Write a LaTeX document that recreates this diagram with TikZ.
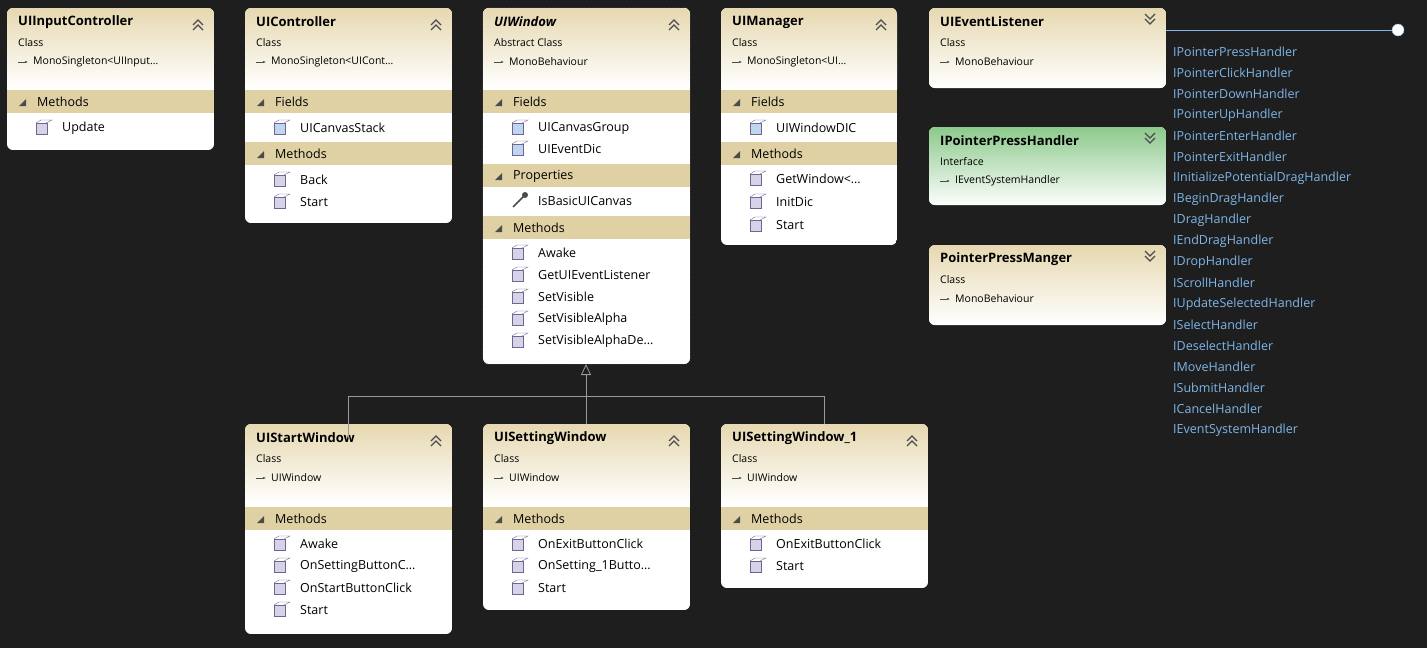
\documentclass[tikz,border=0pt]{standalone}
\usepackage{fontspec}
\setmainfont{Open Sans}
\usetikzlibrary{arrows.meta,calc,positioning}

\definecolor{bgdark}{HTML}{1E1E1E}
\definecolor{hdrtan}{HTML}{E6D8B0}
\definecolor{hdrgreen}{HTML}{8CC98C}
\definecolor{sectbar}{HTML}{E0D1A4}
\definecolor{ifaceblue}{HTML}{7EB6E9}
\definecolor{linegray}{HTML}{9A9A9A}
\definecolor{iconfill}{HTML}{D8D2E8}
\definecolor{icondraw}{HTML}{6E6690}
\definecolor{fieldfill}{HTML}{BFD6EE}

\tikzset{
  boxline/.style={draw=gray!60,rounded corners=6pt},
  titletxt/.style={anchor=west,inner sep=0pt,font=\fontsize{13}{15}\selectfont\bfseries},
  kindtxt/.style={anchor=west,inner sep=0pt,font=\fontsize{10.5}{12}\selectfont},
  membertxt/.style={anchor=west,inner sep=0pt,font=\fontsize{12.5}{14}\selectfont},
  iftxt/.style={anchor=west,inner sep=0pt,text=ifaceblue,font=\fontsize{12.5}{14}\selectfont},
  chev/.style={draw=black!70,line width=1.2pt},
  inherit/.style={draw=linegray,line width=0.8pt},
}

% box: name, x, y, w, h, title, kind, base, header colour
\newcommand\umlbox[9]{%
  \begin{scope}
    \clip[rounded corners=6pt] (#2,#3) rectangle ++(#4,#5);
    \fill[white] (#2,#3) rectangle ++(#4,#5);
    \shade[left color=#9,right color=white,shading angle=0] (#2,#3) rectangle ++(#4,80);
  \end{scope}
  \node[titletxt] (#1) at ($(#2,#3)+(11,14)$) {#6};
  \node[kindtxt] (#1-kind) at ($(#2,#3)+(11,35)$) {#7};
  \node[kindtxt] (#1-base) at ($(#2,#3)+(26,54)$) {#8};
  \draw[-{Latex[length=3pt]},black!70] ($(#2,#3)+(11,54)$) -- ++(10,0);
}
\newcommand\chevup[2]{%
  \draw[chev] ($(#1,#2)+(-5,3)$) -- ++(5,-5) -- ++(5,5);
  \draw[chev] ($(#1,#2)+(-5,8)$) -- ++(5,-5) -- ++(5,5);}
\newcommand\chevdown[2]{%
  \draw[chev] ($(#1,#2)+(-5,-3)$) -- ++(5,5) -- ++(5,-5);
  \draw[chev] ($(#1,#2)+(-5,-8)$) -- ++(5,5) -- ++(5,-5);}
% section bar: x, y, w, label
\newcommand\sect[4]{%
  \fill[sectbar] (#1,#2) rectangle ++(#3,23);
  \fill[black!70] ($(#1,#2)+(12,16)$) -- ++(7,0) -- ++(0,-7) -- cycle;
  \node[membertxt] at ($(#1,#2)+(30,12)$) {#4};}
% member: x, y, text, icon fill
\newcommand\member[4]{%
  \filldraw[fill=#4,draw=icondraw] ($(#1,#2)+(29,-5)$) rectangle ++(11,11);
  \draw[icondraw] ($(#1,#2)+(29,-5)$) -- ++(5,-3) -- ++(11,0) -- ++(-6,3);
  \node[membertxt] at ($(#1,#2)+(55,0)$) {#3};}

\begin{document}
\begin{tikzpicture}[x=1pt,y=-1pt]
  \fill[bgdark] (0,0) rectangle (1427,648);
  \useasboundingbox (0,0) rectangle (1427,648);

  % top row
  \umlbox{inputctl}{7}{8}{207}{142}{UIInputController}{Class}{MonoSingleton<UIInput\dots}{hdrtan}
  \chevup{198}{22}
  \sect{7}{90}{207}{Methods}
  \member{7}{128}{Update}{iconfill}

  \umlbox{uictl}{245}{8}{207}{215}{UIController}{Class}{MonoSingleton<UICont\dots}{hdrtan}
  \chevup{436}{22}
  \sect{245}{90}{207}{Fields}
  \member{245}{128}{UICanvasStack}{fieldfill}
  \sect{245}{142}{207}{Methods}
  \foreach \t [count=\i from 0] in {Back,Start}
    \member{245}{180+22*\i}{\t}{iconfill};

  \umlbox{uiwindow}{483}{8}{207}{356}{}{Abstract Class}{MonoBehaviour}{hdrtan}
  \node[titletxt,font=\fontsize{13}{15}\selectfont\bfseries\itshape] at (494,22) {UIWindow};
  \draw[white,dash pattern=on 1pt off 1.5pt,rounded corners=6pt] (483,8) rectangle ++(207,356);
  \chevup{674}{22}
  \sect{483}{90}{207}{Fields}
  \member{483}{128}{UICanvasGroup}{fieldfill}
  \member{483}{149}{UIEventDic}{fieldfill}
  \sect{483}{164}{207}{Properties}
  \draw[black!70,line width=1.5pt] (513,207) -- (524,196); \fill[black!70] (525,195) circle (3);
  \node[membertxt] at (538,201) {IsBasicUICanvas};
  \sect{483}{216}{207}{Methods}
  \foreach \t [count=\i from 0] in {Awake,GetUIEventListener,SetVisible,SetVisibleAlpha,{SetVisibleAlphaDe\dots}}
    \member{483}{253+22*\i}{\t}{iconfill};

  \umlbox{uimanager}{721}{8}{176}{237}{UIManager}{Class}{MonoSingleton<UI\dots}{hdrtan}
  \chevup{881}{22}
  \sect{721}{90}{176}{Fields}
  \member{721}{128}{UIWindowDIC}{fieldfill}
  \sect{721}{142}{176}{Methods}
  \foreach \t [count=\i from 0] in {{GetWindow<\dots},InitDic,Start}
    \member{721}{179+23*\i}{\t}{iconfill};

  % right column
  \umlbox{listener}{929}{8}{237}{80}{UIEventListener}{Class}{MonoBehaviour}{hdrtan}
  \chevdown{1150}{22}
  \umlbox{ipress}{929}{127}{237}{78}{IPointerPressHandler}{Interface}{IEventSystemHandler}{hdrgreen}
  \chevdown{1150}{141}
  \umlbox{pressmgr}{929}{245}{237}{80}{PointerPressManger}{Class}{MonoBehaviour}{hdrtan}
  \chevdown{1150}{259}

  \coordinate (lolli) at (1398,30);
  \draw[ifaceblue] (1166,30) -- (lolli);
  \filldraw[fill=white,draw=ifaceblue] (lolli) circle (6);
  \foreach \t [count=\i from 0] in {IPointerPressHandler,IPointerClickHandler,IPointerDownHandler,
      IPointerUpHandler,IPointerEnterHandler,IPointerExitHandler,IInitializePotentialDragHandler,
      IBeginDragHandler,IDragHandler,IEndDragHandler,IDropHandler,IScrollHandler,
      IUpdateSelectedHandler,ISelectHandler,IDeselectHandler,IMoveHandler,ISubmitHandler,
      ICancelHandler,IEventSystemHandler}
    \node[iftxt] at (1173,52+21*\i) {\t};

  % bottom row
  \umlbox{startwin}{245}{424}{207}{210}{UIStartWindow}{Class}{UIWindow}{hdrtan}
  \chevup{436}{438}
  \sect{245}{507}{207}{Methods}
  \foreach \t [count=\i from 0] in {Awake,{OnSettingButtonC\dots},OnStartButtonClick,Start}
    \member{245}{544+22*\i}{\t}{iconfill};

  \umlbox{settingwin}{483}{424}{207}{186}{UISettingWindow}{Class}{UIWindow}{hdrtan}
  \chevup{674}{438}
  \sect{483}{507}{207}{Methods}
  \foreach \t [count=\i from 0] in {OnExitButtonClick,{OnSetting\_1Butto\dots},Start}
    \member{483}{544+22*\i}{\t}{iconfill};

  \umlbox{settingwin1}{721}{424}{207}{164}{UISettingWindow\_1}{Class}{UIWindow}{hdrtan}
  \chevup{912}{438}
  \sect{721}{507}{207}{Methods}
  \foreach \t [count=\i from 0] in {OnExitButtonClick,Start}
    \member{721}{544+22*\i}{\t}{iconfill};

  % inheritance
  \draw[inherit] (startwin.west -| 348,424) -- (348,396) -- (824,396) -- (824,424);
  \draw[inherit,-{Triangle[open,length=11pt,width=10pt,fill=bgdark]}] (586,424) -- (586,364);
\end{tikzpicture}
\end{document}
